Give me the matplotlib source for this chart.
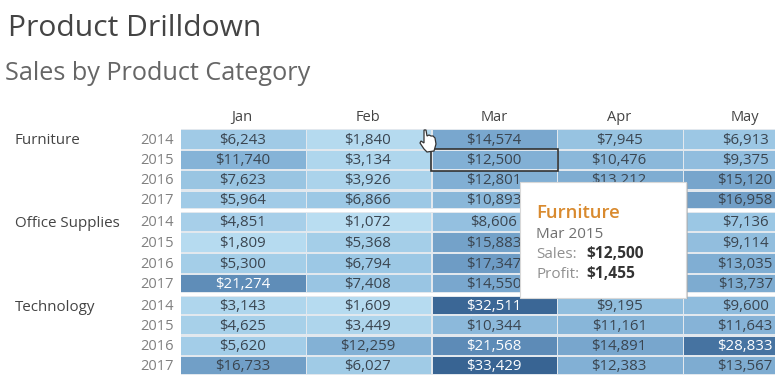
import matplotlib
matplotlib.use('Agg')
import matplotlib.pyplot as plt
from matplotlib.colors import LinearSegmentedColormap, Normalize
from matplotlib.patches import Rectangle, Polygon

months = ['Jan', 'Feb', 'Mar', 'Apr', 'May']
years = ['2014', '2015', '2016', '2017']
categories = ['Furniture', 'Office Supplies', 'Technology']

# rows: Furniture 2014-17, Office Supplies 2014-17, Technology 2014-17
jan = [6243, 11740, 7623, 5964, 4851, 1809, 5300, 21274, 3143, 4625, 5620, 16733]
feb = [1840, 3134, 3926, 6866, 1072, 5368, 6794, 7408, 1609, 3449, 12259, 6027]
mar = [14574, 12500, 12801, 10893, 8606, 15883, 17347, 14550, 32511, 10344, 21568, 33429]
# None = cell is completely behind the tooltip, cannot be read
apr = [7945, 10476, 13212, None, None, None, None, None, 9195, 11161, 14891, 12383]
may = [6913, 9375, 15120, 16958, 7136, 9114, 13035, 13737, 9600, 11643, 28833, 13567]
sales = [jan, feb, mar, apr, may]

# layout in pixels of the screenshot
col_left = [181, 306.5, 432.5, 558, 684]
col_w = 124.5
row_top = [130, 151, 171, 192, 213, 233, 254, 275, 297, 316, 337, 357]
row_bot = [149, 169, 189, 208, 231, 252, 273, 292, 314, 334, 355, 374]
group_top = [130, 213, 297]
group_bot = [208, 292, 374]
cat_y = [139, 222, 306]

cmap = LinearSegmentedColormap.from_list('sales', [
    (0.0, '#b9ddf1'), (0.16, '#9fcae6'), (0.35, '#82b0d5'),
    (0.62, '#5f8db8'), (1.0, '#386493')])
norm = Normalize(1072, 33429)

plt.rcParams['font.family'] = ['Open Sans', 'DejaVu Sans']

fig = plt.figure()
fig.set_size_inches(7.75, 3.78)
ax = fig.add_axes([0, 0, 1, 1])
ax.set_xlim(0, 775)
ax.set_ylim(378, 0)
ax.axis('off')

ax.text(8, 28, 'Product Drilldown', fontsize=21.6, color='#444444', va='center')
ax.text(5, 74, 'Sales by Product Category', fontsize=18.2, color='#666666', va='center')

# grey band shows through the gaps between cells
for top, bot in zip(group_top, group_bot):
    ax.add_patch(Rectangle((181, top - 1), 594, bot - top + 2, facecolor='#e2e8ee', edgecolor='none', zorder=1))

for c, month in enumerate(months):
    ax.text(col_left[c] + col_w / 2 - 1, 117.5, month, ha='center', va='center', fontsize=10.5, color='#444444')
    for r in range(12):
        val = sales[c][r]
        if val is None:
            continue
        ax.add_patch(Rectangle((col_left[c], row_top[r]), col_w, row_bot[r] - row_top[r],
                               facecolor=cmap(norm(val)), edgecolor='none', zorder=2))
        ax.text(col_left[c] + col_w / 2 - 1, (row_top[r] + row_bot[r]) / 2 + 1, '${:,}'.format(val),
                ha='center', va='center', fontsize=10.8, zorder=3,
                color='white' if val > 18000 else '#3a4550')

for r in range(12):
    ax.text(174, (row_top[r] + row_bot[r]) / 2 + 1, years[r % 4], ha='right', va='center',
            fontsize=10.5, color='#808080')
for name, y in zip(categories, cat_y):
    ax.text(15, y + 1.5, name, va='center', fontsize=10.9, color='#444444')

# selected cell, Mar 2015
ax.add_patch(Rectangle((431, 148.5), 127, 22, facecolor='none', edgecolor='#333333', linewidth=1.2, zorder=4))

# tooltip
ax.add_patch(Rectangle((521, 183), 167, 116, facecolor='#a8a8a8', edgecolor='none', alpha=0.6, zorder=5))
ax.add_patch(Rectangle((520, 182), 166, 116, facecolor='white', edgecolor='#d8d8d8', linewidth=0.8, zorder=6))
ax.text(536, 212.5, 'Furniture', fontsize=13.3, color='#d98a2e', va='center', fontweight='semibold', zorder=7)
ax.text(536, 234.5, 'Mar 2015', fontsize=11, color='#707070', va='center', zorder=7)
ax.text(536, 254.5, 'Sales:', fontsize=11, color='#909090', va='center', zorder=7)
ax.text(586, 254.5, '$12,500', fontsize=11.2, color='#333333', va='center', fontweight='bold', zorder=7)
ax.text(536, 274.5, 'Profit:', fontsize=11, color='#909090', va='center', zorder=7)
ax.text(586, 274.5, '$1,455', fontsize=11.2, color='#333333', va='center', fontweight='bold', zorder=7)

# hand cursor
hand = [(424, 130), (426, 130), (427, 136), (429, 135), (431, 136), (433, 136), (435, 138), (436, 144),
        (434, 151), (427, 152), (424, 149), (420, 143), (421, 141), (424, 143)]
ax.add_patch(Polygon(hand, closed=True, facecolor='white', edgecolor='#333333', linewidth=0.9, zorder=8))

fig.savefig('out.png', dpi=100)
